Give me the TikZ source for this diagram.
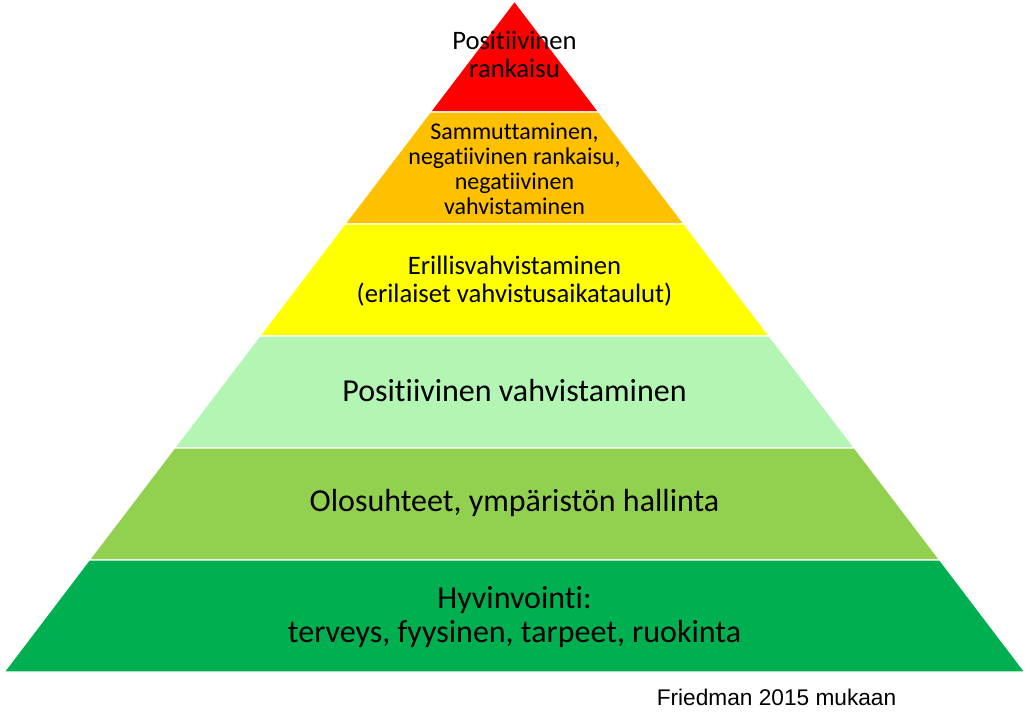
\documentclass[tikz,border=0pt]{standalone}
\usepackage{fontspec}
\setmainfont{Carlito}[Ligatures={NoCommon,NoContextual}]
\newfontfamily\arialfont{Liberation Sans}

\definecolor{toprot}{HTML}{FF0000}
\definecolor{orange}{HTML}{FFC000}
\definecolor{gelb}{HTML}{FFFF00}
\definecolor{hellgruen}{HTML}{B3F5B3}
\definecolor{gruen}{HTML}{92D050}
\definecolor{dunkelgruen}{HTML}{00B050}

\tikzset{
  layer/.style={draw=white, line width=1pt},
  layertext/.style={align=center, text=black, inner sep=0pt},
}

\begin{document}
\begin{tikzpicture}[x=0.75pt,y=-0.75pt]
            \useasboundingbox (0,0) rectangle (1028,723);

            \draw[layer,fill=toprot] (514.5,1) -- (598.9,112) -- (430.1,112) -- cycle; % spitze
            \draw[layer,fill=orange] (430.1,112) -- (598.9,112) -- (684.2,224) -- (344.8,224) -- cycle;
            \draw[layer,fill=gelb] (344.8,224) -- (684.2,224) -- (769.4,336) -- (259.6,336) -- cycle;
            \draw[layer,fill=hellgruen] (259.6,336) -- (769.4,336) -- (854.6,448) -- (174.4,448) -- cycle;
            \draw[layer,fill=gruen] (174.4,448) -- (854.6,448) -- (939.9,560) -- (89.1,560) -- cycle;
            \draw[layer,fill=dunkelgruen] (89.1,560) -- (939.9,560) -- (1025,672) -- (4,672) -- cycle; % basis

            \node[layertext, font=\fontsize{20}{21}\selectfont] (rankaisu) at (514.5,54) {Positiivinen\\rankaisu};
            \node[layertext, font=\fontsize{18}{18.8}\selectfont] (sammutus) at (514.5,169) {Sammuttaminen,\\negatiivinen rankaisu,\\negatiivinen\\vahvistaminen};
            \node[layertext, font=\fontsize{20}{21}\selectfont] (erillis) at (514.5,281) {Erillisvahvistaminen\\(erilaiset vahvistusaikataulut)};
            \node[layertext, font=\fontsize{24}{25.5}\selectfont] (positiivinen) at (514.5,391) {Positiivinen vahvistaminen};
            \node[layertext, font=\fontsize{24}{25.5}\selectfont] (olosuhteet) at (514.5,503) {Olosuhteet, ympäristön hallinta};
            \node[layertext, font=\fontsize{24}{25.5}\selectfont] (hyvinvointi) at (514.5,617) {Hyvinvointi:\\terveys, fyysinen, tarpeet, ruokinta};

            \node[inner sep=0pt, font=\arialfont\fontsize{17}{19}\selectfont] (friedman) at (776.5,697) {Friedman 2015 mukaan};
\end{tikzpicture}
\end{document}
